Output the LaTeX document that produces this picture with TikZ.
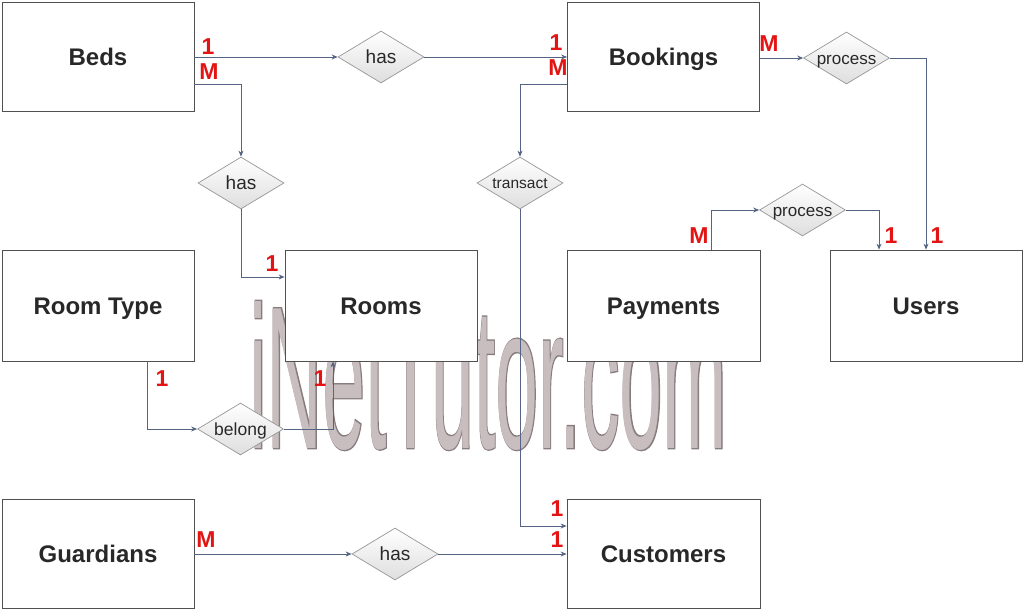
\documentclass[tikz,border=0pt]{standalone}
\usepackage{fontspec}
\usepackage{graphicx}
\setmainfont{Liberation Sans}
\newfontface\wmbold[FakeBold=1.3]{Liberation Sans}
\usetikzlibrary{shapes.geometric,arrows.meta}
\definecolor{boxc}{RGB}{80,80,80}
\definecolor{txt}{RGB}{40,40,40}
\definecolor{relc}{RGB}{150,150,150}
\definecolor{relb}{RGB}{222,222,222}
\definecolor{linec}{RGB}{85,100,130}
\definecolor{cardred}{RGB}{226,20,20}
\definecolor{wmfill}{RGB}{201,190,191}
\definecolor{wmline}{RGB}{135,124,126}
\begin{document}
\begin{tikzpicture}[x=1pt,y=-1pt,
  ent/.style={draw=boxc, line width=0.8pt, fill=white, minimum width=192pt, minimum height=109pt, inner sep=0pt, font=\fontsize{24}{24}\selectfont\bfseries, text=txt, text height=17.3pt, text depth=0pt},
  rel/.style={diamond, draw=relc, line width=0.7pt, top color=white, bottom color=relb, minimum width=86pt, minimum height=52pt, inner sep=0pt, aspect=1.65},
  rl/.style={text=txt, inner sep=0pt, text depth=0pt},
  card/.style={font=\fontsize{23}{23}\selectfont\bfseries, text=cardred, inner sep=0pt},
  conn/.style={draw=linec, line width=0.8pt, -{Stealth[length=6pt,width=5pt]}},
]
\useasboundingbox (0,0) rectangle (1024,610);
% watermark
\node[anchor=base, inner sep=0pt] (wm) at (488.5,448) {\scalebox{0.38}[1]{\fontsize{203}{203}\selectfont\rlap{\color{wmline}\wmbold iNetTutor.com}\color{wmfill}iNetTutor.com}};
% entities
\node[ent] (beds) at (98,56.5) {Beds};
\node[ent] (bookings) at (663.5,56.5) {Bookings};
\node[ent, minimum height=111pt] (rooms) at (381,305.5) {Rooms};
\node[ent, minimum height=111pt] (roomtype) at (98,305.5) {Room Type};
\node[ent, minimum height=111pt, minimum width=193pt] (payments) at (663.5,305.5) {Payments};
\node[ent, minimum height=111pt] (users) at (926,305.5) {Users};
\node[ent] (guardians) at (98,553.5) {Guardians};
\node[ent, minimum width=193pt] (customers) at (663.5,553.5) {Customers};
% relationships
\node[rel, label={[rl, font=\fontsize{19}{19}\selectfont, text height=13.8pt]center:has}] (h1) at (381,57) {};
\node[rel, label={[rl, font=\fontsize{17}{17}\selectfont, text height=12.4pt]center:process}] (p1) at (846.5,58) {};
\node[rel, label={[rl, font=\fontsize{19}{19}\selectfont, text height=13.8pt]center:has}] (h2) at (241,183) {};
\node[rel, label={[rl, font=\fontsize{15.5}{15.5}\selectfont, text height=11.2pt]center:transact}] (tr) at (520,183) {};
\node[rel, label={[rl, font=\fontsize{17}{17}\selectfont, text height=12.4pt]center:process}] (p2) at (802.5,210) {};
\node[rel, label={[rl, font=\fontsize{17.5}{17.5}\selectfont, text height=12.8pt]center:belong}] (bl) at (240.5,429) {};
\node[rel, label={[rl, font=\fontsize{19}{19}\selectfont, text height=13.8pt]center:has}] (h3) at (395,554) {};
% connectors
\draw[conn] (beds.east |- h1.west) -- (h1.west);
\draw[conn] (h1.east) -- (bookings.west |- h1.east);
\draw[conn] ([yshift=-28pt]beds.east) -| (h2.north);
\draw[conn] (h2.south) |- ([yshift=28.5pt]rooms.west);
\draw[conn] ([yshift=-27.5pt]bookings.west) -| (tr.north);
\draw[conn] (tr.south) |- ([yshift=27.5pt]customers.west);
\draw[conn] (bookings.east |- p1.west) -- (p1.west);
\draw[conn] (p1.east) -| (users.north);
\draw[conn] ([xshift=47.5pt]payments.north) |- (p2.west);
\draw[conn] (p2.east) -| ([xshift=-47pt]users.north);
\draw[conn] ([xshift=49pt]roomtype.south) |- (bl.west);
\draw[conn] (bl.east) -| ([xshift=-48pt]rooms.south);
\draw[conn] (guardians.east |- h3.west) -- (h3.west);
\draw[conn] (h3.east) -- (customers.west |- h3.east);
% cardinalities
\node[card] (c1) at (208,47) {1};
\node[card] (c2) at (209,72) {M};
\node[card] (c3) at (556,43) {1};
\node[card] (c4) at (558,68) {M};
\node[card] (c5) at (769,43.5) {M};
\node[card] (c6) at (272,264) {1};
\node[card] (c7) at (699,236) {M};
\node[card] (c8) at (891,236) {1};
\node[card] (c9) at (937,236) {1};
\node[card] (c10) at (162,379) {1};
\node[card] (c11) at (320,379) {1};
\node[card] (c12) at (206,540) {M};
\node[card] (c13) at (557,509) {1};
\node[card] (c14) at (557,540) {1};
\end{tikzpicture}
\end{document}
